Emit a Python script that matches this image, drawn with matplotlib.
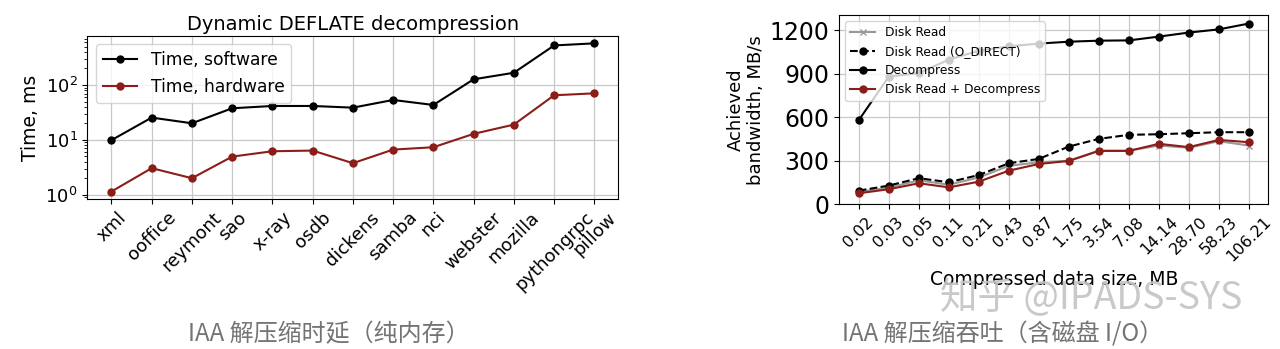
import matplotlib
matplotlib.use("Agg")
import matplotlib.pyplot as plt
import numpy as np

# ---- Left chart data ----
datasets = ["xml", "ooffice", "reymont", "sao", "x-ray", "osdb", "dickens",
            "samba", "nci", "webster", "mozilla", "pythongrpc", "pillow"]
time_software = [9.9, 25.5, 20.1, 37.7, 41.5, 41.5, 38.7, 53.4, 43.3, 127, 167, 525, 573]
time_hardware = [1.15, 3.06, 2.01, 4.97, 6.22, 6.4, 3.77, 6.67, 7.36, 12.9, 19.0, 65, 70.5]

# ---- Right chart data ----
sizes = ["0.02", "0.03", "0.05", "0.11", "0.21", "0.43", "0.87", "1.75",
         "3.54", "7.08", "14.14", "28.70", "58.23", "106.21"]
disk_read = [85, 115, 165, 135, 185, 265, 290, 300, 370, 370, 405, 390, 435, 405]
disk_read_direct = [94, 129, 180, 152, 202, 283, 313, 398, 451, 479, 483, 490, 497, 497]
decompress = [580, 880, 905, 997, 1059, 1089, 1108, 1121, 1128, 1130, 1156, 1184, 1206, 1246]
disk_read_decompress = [76, 104, 145, 117, 156, 232, 278, 299, 368, 368, 417, 394, 444, 428]

captions = ["IAA 解压缩时延（纯内存）", "IAA 解压缩吞吐（含磁盘 I/O）"]
watermark = "知乎 @IPADS-SYS"

RED = "#8c1d18"
GRID = "#c8c8c8"

fig = plt.figure(figsize=(12.8, 3.49), dpi=100)

# Left axes
ax1 = fig.add_axes([0.0682, 0.430, 0.415, 0.467])
x1 = np.arange(len(datasets))
ax1.plot(x1, time_software, color="black", marker="o", ms=5, lw=1.5, label="Time, software")
ax1.plot(x1, time_hardware, color=RED, marker="o", ms=5, lw=1.5, label="Time, hardware")
ax1.set_yscale("log")
ax1.set_xticks(x1)
ax1.set_xticklabels(datasets, rotation=45, fontsize=13)
ax1.tick_params(axis="y", labelsize=13)
ax1.set_ylabel("Time, ms", fontsize=13.5)
ax1.set_title("Dynamic DEFLATE decompression", fontsize=14, pad=4)
ax1.grid(True, color=GRID, lw=0.9)
ax1.set_axisbelow(True)
ax1.legend(loc="upper left", fontsize=12.3, handlelength=2.0)

# Right axes
ax2 = fig.add_axes([0.6557, 0.4146, 0.3352, 0.5424])
x2 = np.arange(len(sizes))
ax2.plot(x2, disk_read, color="#999999", marker="x", ms=5, lw=1.5, label="Disk Read")
ax2.plot(x2, disk_read_direct, color="black", ls="--", marker="o", ms=5, lw=1.5,
         label="Disk Read (O_DIRECT)")
ax2.plot(x2, decompress, color="black", marker="o", ms=5, lw=1.5, label="Decompress")
ax2.plot(x2, disk_read_decompress, color=RED, marker="o", ms=5, lw=1.5,
         label="Disk Read + Decompress")
ax2.set_ylim(0, 1305)
ax2.set_yticks([0, 300, 600, 900, 1200])
ax2.set_xticks(x2)
ax2.set_xticklabels(sizes, rotation=45, fontsize=11.5)
ax2.tick_params(axis="y", labelsize=17)
ax2.set_ylabel("Achieved\nbandwidth, MB/s", fontsize=13)
ax2.yaxis.set_label_coords(-0.172, 0.5)
ax2.set_xlabel("Compressed data size, MB", fontsize=13.5)
ax2.grid(True, color=GRID, lw=0.9)
ax2.set_axisbelow(True)
ax2.legend(loc="upper left", fontsize=8.8)

cjk = ["Noto Sans CJK SC", "DejaVu Sans"]
fig.text(0.147, 0.021, captions[0], ha="left", va="baseline", fontsize=17.3,
         color="#747474", family=cjk)
fig.text(0.658, 0.021, captions[1], ha="left", va="baseline", fontsize=17.3,
         color="#747474", family=cjk)
fig.text(0.734, 0.145, watermark, ha="left", va="center", fontsize=27,
         color="#c4c4c4", family=cjk, alpha=0.9)

fig.savefig("out.png", dpi=100)
